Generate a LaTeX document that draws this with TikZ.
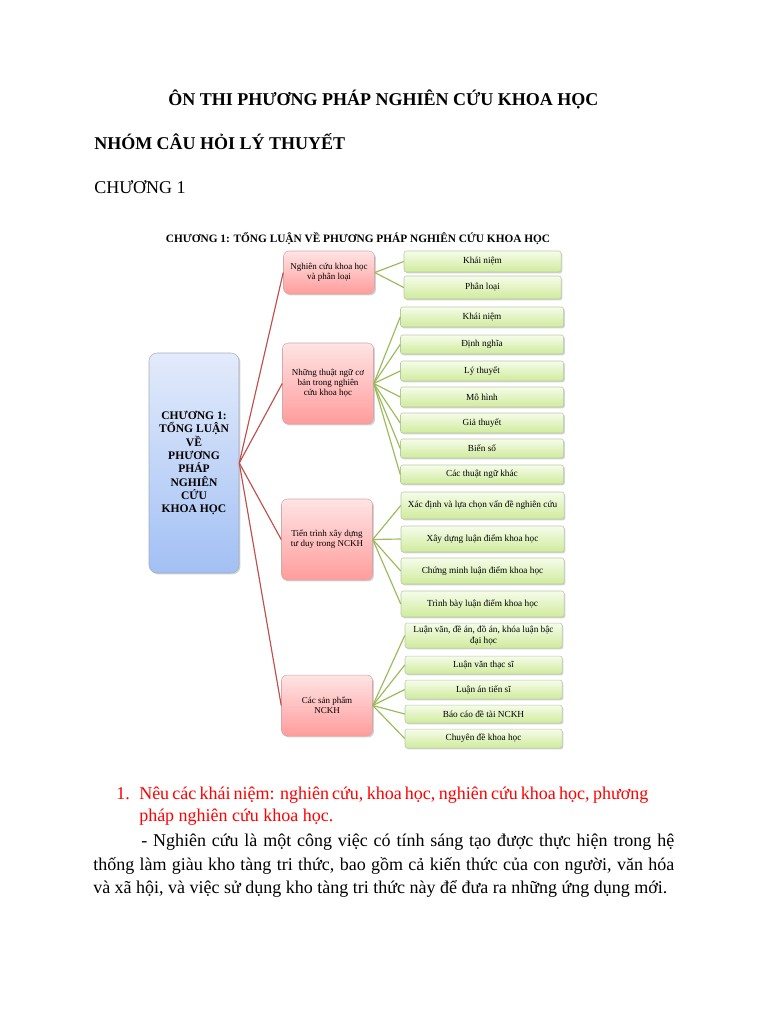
\documentclass[tikz,border=0pt]{standalone}
\usepackage{fontspec}
\setmainfont{Liberation Serif}
\usetikzlibrary{shadows}
\newlength{\pxu}
\setlength{\pxu}{0.2734mm}
\definecolor{linkred}{HTML}{C0504D}
\definecolor{linkgreen}{HTML}{9BBB59}
\definecolor{itemtop}{HTML}{F6FCEA}
\definecolor{itembot}{HTML}{CFEB9C}
\definecolor{itemedge}{HTML}{B9C8A4}
\definecolor{subtop}{HTML}{FFE4E4}
\definecolor{subbot}{HTML}{FF9C9C}
\definecolor{subedge}{HTML}{D2A8A8}
\definecolor{roottop}{HTML}{E3EBFB}
\definecolor{rootbot}{HTML}{A2C0F4}
\definecolor{rootedge}{HTML}{A3ACBD}
\begin{document}
\begin{tikzpicture}[x=0.2734mm,y=-0.2734mm,
  pagetext/.style={anchor=base west,inner sep=0pt,font=\fontsize{14}{16}\selectfont},
  rootbox/.style={draw=rootedge,rounded corners=2.2mm,top color=roottop,bottom color=rootbot,
    drop shadow={shadow xshift=0.4mm,shadow yshift=-0.4mm,opacity=0.35},
    minimum width=90\pxu,minimum height=220\pxu,align=center,inner sep=1pt,
    font=\fontsize{9}{10.4}\selectfont\bfseries},
  subbox/.style={draw=subedge,rounded corners=1.6mm,top color=subtop,bottom color=subbot,
    drop shadow={shadow xshift=0.4mm,shadow yshift=-0.4mm,opacity=0.35},
    minimum width=91\pxu,align=center,inner sep=1pt,font=\fontsize{7}{7.8}\selectfont},
  itembox/.style={draw=itemedge,rounded corners=0.6mm,top color=itemtop,bottom color=itembot,
    drop shadow={shadow xshift=0.35mm,shadow yshift=-0.35mm,opacity=0.35},
    minimum width=163\pxu,align=center,inner sep=1pt,font=\fontsize{7.2}{8}\selectfont},
  redlink/.style={linkred,line width=0.9pt},
  greenlink/.style={linkgreen,line width=0.9pt}]
\useasboundingbox (0,0) rectangle (768,1024);
% page header
\node[pagetext,font=\fontsize{14}{16}\selectfont\bfseries] (title) at (168,106) {ÔN THI PHƯƠNG PHÁP NGHIÊN CỨU KHOA HỌC};
\node[pagetext,font=\fontsize{14}{16}\selectfont\bfseries] (group) at (94,149) {NHÓM CÂU HỎI LÝ THUYẾT};
\node[pagetext] (chap) at (94,193) {CHƯƠNG 1};

% mind map
\node[font=\fontsize{8.8}{10}\selectfont\bfseries,inner sep=0pt] (maptitle) at (358,239) {CHƯƠNG 1: TỔNG LUẬN VỀ PHƯƠNG PHÁP NGHIÊN CỨU KHOA HỌC};
\node[rootbox] (root) at (194,463) {CHƯƠNG 1:\\TỔNG LUẬN\\VỀ\\PHƯƠNG\\PHÁP\\NGHIÊN\\CỨU\\KHOA HỌC};

\node[subbox,minimum height=43\pxu] (s1) at (329,272.5) {Nghiên cứu khoa học\\và phân loại};
\node[subbox,minimum height=81\pxu] (s2) at (328,383.5) {Những thuật ngữ cơ\\bản trong nghiên\\cứu khoa học};
\node[subbox,minimum height=81\pxu] (s3) at (327,539.5) {Tiến trình xây dựng\\tư duy trong NCKH};
\node[subbox,minimum height=61\pxu] (s4) at (327,705.5) {Các sản phẩm\\NCKH};

\node[itembox,minimum width=157\pxu,minimum height=21\pxu] (a1) at (482.5,261.5) {Khái niệm};
\node[itembox,minimum width=157\pxu,minimum height=23\pxu] (a2) at (482.5,287.5) {Phân loại};

\node[itembox,minimum height=20\pxu] (b1) at (482,317) {Khái niệm};
\node[itembox,minimum height=19\pxu] (b2) at (482,344.5) {Định nghĩa};
\node[itembox,minimum height=20\pxu] (b3) at (482,371) {Lý thuyết};
\node[itembox,minimum height=20\pxu] (b4) at (482,397) {Mô hình};
\node[itembox,minimum height=20\pxu] (b5) at (482,423) {Giả thuyết};
\node[itembox,minimum height=19\pxu] (b6) at (482,448.5) {Biến số};
\node[itembox,minimum height=19\pxu] (b7) at (482,474.5) {Các thuật ngữ khác};

\node[itembox,minimum height=27\pxu] (c1) at (482.5,505.5) {Xác định và lựa chọn vấn đề nghiên cứu};
\node[itembox,minimum height=26\pxu] (c2) at (482.5,539) {Xây dựng luận điểm khoa học};
\node[itembox,minimum height=26\pxu] (c3) at (482.5,571) {Chứng minh luận điểm khoa học};
\node[itembox,minimum height=26\pxu] (c4) at (482.5,604) {Trình bày luận điểm khoa học};

\node[itembox,minimum width=157\pxu,minimum height=25\pxu] (d1) at (483.5,635.5) {Luận văn, đề án, đồ án, khóa luận bậc\\đại học};
\node[itembox,minimum width=157\pxu,minimum height=18\pxu] (d2) at (483.5,665) {Luận văn thạc sĩ};
\node[itembox,minimum width=157\pxu,minimum height=19\pxu] (d3) at (483.5,689.5) {Luận án tiến sĩ};
\node[itembox,minimum width=157\pxu,minimum height=18\pxu] (d4) at (483.5,714) {Báo cáo đề tài NCKH};
\node[itembox,minimum width=157\pxu,minimum height=19\pxu] (d5) at (483.5,738.5) {Chuyên đề khoa học};

\foreach \s in {s1,s2,s3,s4}
  \draw[redlink] (root.east) -- (\s.west);
\foreach \i in {a1,a2}
  \draw[greenlink] (s1.east) -- (\i.west);
\foreach \i in {b1,b2,b3,b4,b5,b6,b7}
  \draw[greenlink] (s2.east) -- (\i.west);
\foreach \i in {c1,c2,c3,c4}
  \draw[greenlink] (s3.east) -- (\i.west);
\foreach \i in {d1,d2,d3,d4,d5}
  \draw[greenlink] (s4.east) -- (\i.west);

% question and answer
\node[pagetext,text=red] (qnum) at (116,799) {1.};
\node[pagetext,text=red] (q1) at (139,799) {\makebox[509\pxu][s]{Nêu các khái niệm: nghiên cứu, khoa học, nghiên cứu khoa học, phương}};
\node[pagetext,text=red] (q2) at (139,821) {pháp nghiên cứu khoa học.};
\node[pagetext] (p1) at (141,846) {\makebox[533\pxu][s]{- Nghiên cứu là một công việc có tính sáng tạo được thực hiện trong hệ}};
\node[pagetext] (p2) at (93,870) {\makebox[581\pxu][s]{thống làm giàu kho tàng tri thức, bao gồm cả kiến thức của con người, văn hóa}};
\node[pagetext] (p3) at (93,893) {và xã hội, và việc sử dụng kho tàng tri thức này để đưa ra những ứng dụng mới.};
\end{tikzpicture}
\end{document}
